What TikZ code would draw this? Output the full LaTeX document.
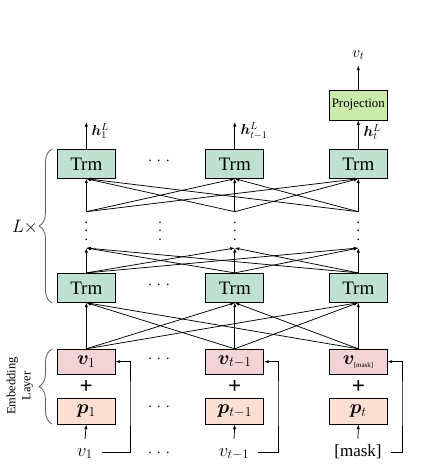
\documentclass[tikz,border=0pt]{standalone}
\usepackage{fix-cm}
\usepackage{amsmath}
\usepackage{bm}
\usepackage{fontspec}
\setmainfont{Liberation Serif}
\usetikzlibrary{arrows.meta,decorations.pathreplacing}
\definecolor{trmc}{RGB}{191,226,208}
\definecolor{projc}{RGB}{202,235,170}
\definecolor{vc}{RGB}{242,212,214}
\definecolor{pc}{RGB}{250,223,210}
\definecolor{bracec}{RGB}{90,90,90}
\newcommand{\myhdots}{\hbox{.\kern5.3pt.\kern5.3pt.}}
\newcommand{\myvdots}{\vbox{\baselineskip=8.5pt\lineskiplimit=-20pt\hbox{.}\hbox{.}\hbox{.}}}
\begin{document}
\begin{tikzpicture}[x=1pt,y=-1pt,
  box/.style={draw, line width=0.8pt, minimum width=58pt, inner sep=1.5pt},
  trm/.style={box, fill=trmc, minimum height=29pt, font=\fontsize{19}{22}\selectfont},
  proj/.style={box, fill=projc, minimum height=30pt, font=\fontsize{12.9}{15}\selectfont},
  vbox/.style={box, fill=vc, minimum height=25pt, font=\fontsize{19.5}{22}\selectfont},
  pbox/.style={box, fill=pc, minimum height=26pt, font=\fontsize{19.5}{22}\selectfont},
  inp/.style={inner sep=3pt, text height=13pt, text depth=5pt, font=\fontsize{17}{20}\selectfont},
  inpm/.style={font=\fontsize{18.5}{21}\selectfont},
  lab/.style={inner sep=0pt, font=\fontsize{14.5}{17}\selectfont},
  dotsn/.style={inner sep=0pt, font=\fontsize{14}{16}\selectfont},
  plusn/.style={inner sep=0pt, font=\fontsize{23}{25}\selectfont\bfseries},
  arr/.style={-{Latex[length=4.5pt,width=3.4pt]}, line width=0.75pt},
  bracestyle/.style={draw=bracec, line width=0.8pt, decorate, decoration={brace, amplitude=13pt}}
]
\useasboundingbox (0,0) rectangle (430,474);

% top Trm row
\node[trm] (t1) at (86.3,163.8) {Trm};
\node[trm] (t2) at (234.8,163.8) {Trm};
\node[trm] (t3) at (358.3,163.8) {Trm};
% bottom Trm row
\node[trm] (b1) at (86.3,287.8) {Trm};
\node[trm] (b2) at (234.8,287.8) {Trm};
\node[trm] (b3) at (358.3,287.8) {Trm};
% embeddings
\node[vbox] (v1) at (86.3,361.7) {$\bm{v}_1$};
\node[vbox] (v2) at (234.8,361.7) {$\bm{v}_{t-1}$};
\node[vbox] (v3) at (358.3,361.7) {$\bm{v}_{\mbox{\fontsize{7}{8}\selectfont[mask]}}$};
\node[plusn] (pl1) at (86.3,386.5) {+};
\node[plusn] (pl2) at (234.8,386.5) {+};
\node[plusn] (pl3) at (358.3,386.5) {+};
\node[pbox] (p1) at (86.3,411.2) {$\bm{p}_1$};
\node[pbox] (p2) at (234.8,411.2) {$\bm{p}_{t-1}$};
\node[pbox] (p3) at (358.3,411.2) {$\bm{p}_t$};
% inputs
\node[inp, inpm] (i1) at (85,452) {$v_1$};
\node[inp, inpm] (i2) at (234,452) {$v_{t-1}$};
\node[inp] (i3) at (358,452) {[mask]};
% projection
\node[proj] (pr) at (358.3,105) {Projection};
\node[lab, font=\fontsize{15.5}{18}\selectfont] (vt) at (358.3,55) {$v_t$};

% coordinates
\coordinate (o1) at (86.3,122);
\coordinate (o2) at (234.8,122);
\coordinate (m1) at (86.3,248);
\coordinate (m2) at (234.8,248);
\coordinate (m3) at (358.3,248);
\coordinate (u1) at (86.3,211.7);
\coordinate (u2) at (234.8,211.7);
\coordinate (u3) at (358.3,211.7);
\coordinate (f1) at (130,400);
\coordinate (f2) at (278,400);
\coordinate (f3) at (402,400);

% labels
\node[lab, anchor=west] (h1) at (91.5,131) {$\bm{h}_1^L$};
\node[lab, anchor=west] (h2) at (240.5,131) {$\bm{h}_{t-1}^L$};
\node[lab, anchor=west] (h3) at (363.5,132) {$\bm{h}_t^L$};

% dots
\node[dotsn] (d1) at (159,161) {\myhdots};
\node[dotsn] (d2) at (159,285) {\myhdots};
\node[dotsn] (d3) at (159,359) {\myhdots};
\node[dotsn] (d4) at (159,407) {\myhdots};
\node[dotsn] (d5) at (159,453) {\myhdots};
\node[dotsn] (e1) at (86.3,231) {\myvdots};
\node[dotsn] (e2) at (160,231) {\myvdots};
\node[dotsn] (e3) at (234.8,231) {\myvdots};
\node[dotsn] (e4) at (358.3,231) {\myvdots};

% connections
\foreach \i in {1,2,3}{
  \foreach \j in {1,2,3}{
    \draw[arr] (v\i.north) -- (b\j.south);
    \draw[arr] (b\i.north) -- (m\j);
    \draw[arr] (u\i) -- (t\j.south);
  }
  \draw[arr, shorten <=1pt] (i\i.north) -- (p\i.south);
  \draw[arr] ([xshift=6pt]i\i.east) -| (f\i) |- (v\i.east);
}
\draw[arr] (t1.north) -- (o1);
\draw[arr] (t2.north) -- (o2);
\draw[arr] (t3.north) -- (pr.south);
\draw[arr, shorten >=6pt] (pr.north) -- (vt.south);

% braces
\draw[bracestyle] (52,303) -- (52,149);
\draw[bracestyle] (52,424) -- (52,349);
\node[inner sep=0pt, font=\fontsize{18}{21}\selectfont] (lx) at (25,227) {$L\times$};
\node[inner sep=0pt, rotate=90, align=center, font=\fontsize{12.5}{15}\selectfont] (emb) at (20,386) {Embedding\\Layer};
\end{tikzpicture}
\end{document}
